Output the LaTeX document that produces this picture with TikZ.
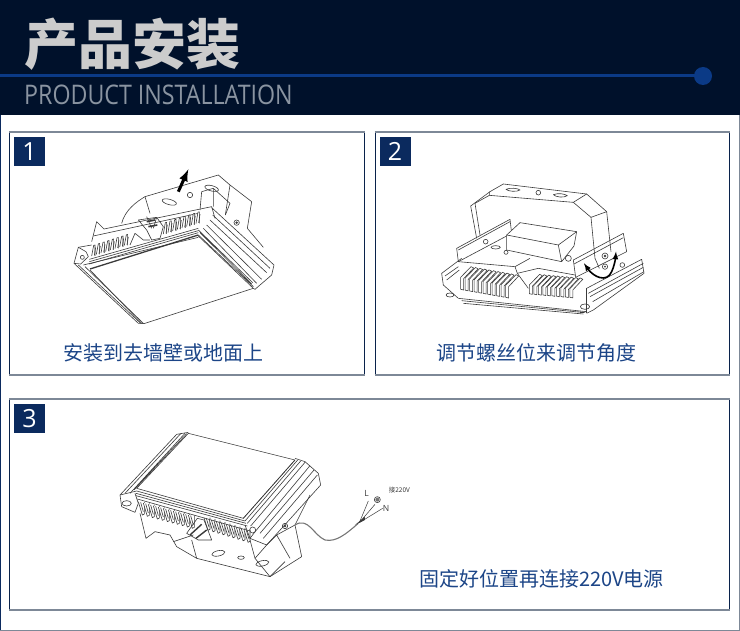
\documentclass[tikz,border=0pt]{standalone}
\usepackage{fontspec}
\usepackage{tikz}
\usetikzlibrary{arrows, calc}
\newfontfamily\cjk{Noto Sans CJK SC}
\newfontfamily\cjkbold{Noto Sans CJK SC Black}
\setsansfont{Open Sans}
\definecolor{headbg}{HTML}{00112B}
\definecolor{headline}{HTML}{0B3A86}
\definecolor{numbox}{HTML}{0B2A5E}
\definecolor{capblue}{HTML}{1C4587}
\definecolor{edgegray}{HTML}{7D8897}
\definecolor{inkgray}{HTML}{3A3A3A}

\begin{document}
\begin{tikzpicture}[x=1pt,y=-1pt,
	            >=latex,
	            every node/.style={inner sep=0pt},
	            numlabel/.style={
	                fill=numbox,
	                text=white,
	                minimum width=31pt,
	                minimum height=29pt,
	                font=\sffamily\fontsize{25}{25}\selectfont
	            },
	            caption/.style={
	                text=capblue,
	                font=\cjk\fontsize{20}{20}\selectfont
	            },
	            topbot/.style={edgegray, line width=1.3pt},
	            sides/.style={numbox!80!black, line width=1pt},
	            ink/.style={inkgray, line width=.6pt, line join=round},
	            fin/.style={ink, fill=white},
	            bigarrow/.style={black, line width=3pt, ->}
	            ]
	        \useasboundingbox (0,0) rectangle (740,631);

	        % header
	        \fill[headbg] (0,0) rectangle (740,115);
	        \draw[headline, line width=3pt] (0,76) -- (703,76);
	        \fill[headline] (703,76) circle (9);
	        \node[anchor=west, text=black!20, font=\cjkbold\fontsize{54}{54}\selectfont] (title) at (24,44) {产品安装};
	        \node[anchor=west, text=edgegray!90!white, xscale=.86, transform shape, font=\sffamily\fontsize{27}{27}\selectfont] (subtitle) at (24,95) {PRODUCT INSTALLATION};

	        % page edges
	        \draw[numbox, line width=1pt] (.5,115) -- (.5,631);
	        \draw[edgegray, line width=1pt] (0,630.5) -- (740,630.5) (739.5,115) -- (739.5,631);

	        % panels
	        \draw[sides] (9.5,132) -- (9.5,375) (364.5,132) -- (364.5,375);
	        \draw[sides] (375,132) -- (375,375) (729,132) -- (729,375);
	        \draw[sides] (9.5,399) -- (9.5,610) (729,399) -- (729,610);
	        \draw[topbot] (9,132) -- (365,132) (9,375) -- (365,375);
	        \draw[topbot] (374.5,132) -- (729.5,132) (374.5,375) -- (729.5,375);
	        \draw[topbot] (9,399) -- (729.5,399) (9,610) -- (729.5,610);

	        \node[numlabel] (n1) at (29.5,151.5) {1};
	        \node[numlabel] (n2) at (395,151.5) {2};
	        \node[numlabel] (n3) at (29.5,418.5) {3};

	        \node[caption] (c1) at (163.5,353) {安装到去墙壁或地面上};
	        \node[caption] (c2) at (536.5,353) {调节螺丝位来调节角度};
	        \node[caption] (c3) at (541.5,578.5) {固定好位置再连接220V电源};

	        % lamp, panel 1
	        \begin{scope}[shift={(50,160)},scale=1/3]
	            \draw[ink] (215,190) .. controls (225,150) and (260,125) .. (285,110) -- (505,45) -- (540,75) -- (605,125) -- (592,205) -- (640,262);
	            \draw[ink] (285,110) -- (300,160);
	            \draw[ink] (540,75) -- (526,165);
	            \draw[ink, rotate around={-15:(358,126)}] (358,126) ellipse (22 and 8);
	            \draw[ink] (420,105) circle (8);
	            \draw[ink, rotate around={-15:(485,85)}] (485,85) ellipse (21 and 8);
	            \draw[ink] (560,188) circle (8);
	            \fill[inkgray] (560,188) circle (4);
	            % near plates
	            \draw[ink] (125,245) -- (140,185) -- (162,207) -- (485,140) -- (495,175);
	            \draw[ink] (130,228) -- (445,160);
	            \draw[ink] (455,95) -- (490,85) -- (540,130) -- (526,165);
	            \draw[ink] (455,95) -- (450,150) (490,85) -- (490,140);
	            % end of the profile
	            \draw[ink] (72,310) -- (85,262) -- (125,255);
	            \draw[ink] (72,310) -- (92,312) -- (115,290) -- (108,275) -- (85,262);
	            \draw[ink] (97,292) circle (6);
	            % fins
	            \foreach \i in {0,...,7}{
	                \draw[fin] ($(125,288)+(\i*14,-\i*4.5)$) -- ++(6,-32) -- ++(4,-1) -- ++(0,33);
	                \draw[ink] ($(133,286)+(\i*14,-\i*4.5)$) -- ++(4,-24);
	            }
	            \foreach \i in {0,...,7}{
	                \draw[fin] ($(340,222)+(\i*14,-\i*4.5)$) -- ++(6,-34) -- ++(4,-1) -- ++(0,35);
	                \draw[ink] ($(348,220)+(\i*14,-\i*4.5)$) -- ++(4,-26);
	            }
	            \draw[ink] (240,255) -- (255,220) -- (280,240) -- (300,240);
	            \draw[ink] (265,180) -- (320,172) -- (340,200) -- (330,235) -- (305,240) -- (290,210) -- cycle;
	            \draw[inkgray, line width=1.6pt] (290,185) -- (315,180) (295,200) -- (322,195);
	            \draw[ink] (290,170) -- (305,205) (320,172) -- (310,205);
	            % front rail
	            \draw[ink] (118,298) -- (445,205) (118,305) -- (445,212);
	            \draw[ink] (118,312) -- (445,218);
	            \draw[inkgray, line width=1.3pt] (120,327) -- (445,225);
	            \draw[ink] (100,315) -- (445,232);
	            % lens
	            \draw[ink] (120,330) -- (275,490) -- (285,490) -- (610,385);
	            \draw[ink] (445,228) -- (610,385);
	            % left rail
	            \draw[ink] (72,310) -- (265,490) -- (285,490);
	            \draw[ink] (85,315) -- (272,490);
	            \draw[ink] (105,320) -- (280,490);
	            % right rail
	            \draw[ink] (485,143) -- (672,315) -- (665,345) -- (615,388) -- (610,385);
	            \draw[ink] (445,210) -- (608,368) (450,218) -- (605,372) (445,225) -- (610,380);
	            \draw[ink] (460,205) -- (620,370) (470,195) -- (635,358);
	            \draw[ink] (480,180) -- (650,338) (488,165) -- (660,325);
	            \draw[bigarrow] (385,95) -- (415,28);
	        \end{scope}

	        % lamp, panel 2
	        \begin{scope}[shift={(430,170)},scale=1/3]
	            % right plate
	            \draw[ink] (430,270) -- (580,190) -- (590,245) -- (437,322) -- (430,270);
	            \draw[ink] (580,203) -- (432,282);
	            \draw[ink] (577,285) circle (7);
	            % handle
	            \draw[ink] (140,205) -- (122,108) -- (180,65) -- (220,42) -- (470,72) -- (530,125) -- (543,245);
	            \draw[ink] (150,195) -- (135,100) -- (178,76) -- (430,97) -- (483,142) -- (495,265) -- (508,295);
	            \draw[ink] (178,65) -- (178,76) (470,72) -- (430,97) (530,125) -- (483,142);
	            \draw[ink] (228,58) .. controls (240,52) and (265,55) .. (270,60) .. controls (262,66) and (235,65) .. (228,58) -- cycle;
	            \draw[ink] (370,74) .. controls (385,68) and (405,72) .. (412,77) .. controls (402,84) and (378,82) .. (370,74) -- cycle;
	            \draw[ink] (325,68) circle (7);
	            % plate with the screw
	            \draw[ink] (80,235) -- (240,148) -- (245,190) -- (85,275) -- cycle;
	            \draw[ink] (85,240) -- (240,155);
	            \draw[ink] (167,215) circle (7);
	            \draw[ink] (197,232) ellipse (14 and 5);
	            % box
	            \draw[ink, fill=white] (230,195) -- (270,158) -- (440,185) -- (432,228) -- (395,275) -- (230,240) -- cycle;
	            \draw[ink] (230,195) -- (385,225) -- (395,275) (385,225) -- (440,185);
	            \draw[ink] (415,265) circle (9) (228,247) circle (6);
	            % base plate
	            \draw[ink] (85,275) -- (255,290) -- (300,265) (255,290) -- (262,310) -- (295,355);
	            \draw[ink] (262,310) -- (325,295) -- (435,315);
	            % fins
	            \foreach \i in {10,9,...,0}{
	                \draw[fin] ($(92,322)+(\i*13.5,\i*2.4)$) -- ++(0,36) -- ++(9,2) -- ++(0,-34) -- ++(30,-32) -- ++(-8,-4) -- cycle;
	            }
	            \foreach \i in {9,8,...,0}{
	                \draw[fin] ($(298,345)+(\i*13.5,\i*1.2)$) -- ++(0,26) -- ++(9,2) -- ++(0,-24) -- ++(30,-32) -- ++(-8,-4) -- cycle;
	            }
	            % left end
	            \draw[ink] (40,345) -- (35,310) -- (95,265);
	            \draw[ink] (45,318) -- (85,290) (50,330) -- (88,300);
	            \draw[ink] (40,345) -- (85,385);
	            \draw[ink] (60,375) ellipse (12 and 6);
	            % front rail
	            \draw[ink] (85,385) -- (470,425) (95,392) -- (465,428) -- (450,428);
	            \draw[ink] (100,400) -- (460,432);
	            % right rail
	            \draw[ink] (470,355) -- (635,268) -- (642,310) -- (490,420) -- (470,430);
	            \draw[ink] (475,370) -- (640,280) (480,380) -- (640,292) (488,395) -- (642,305);
	            \draw[ink] (470,355) -- (470,430);
	            \draw[ink] (465,410) ellipse (14 and 8);
	            % screws, arrow
	            \draw[ink] (525,258) circle (9) (525,290) circle (8);
	            \fill[inkgray] (525,258) circle (4) (525,290) circle (3);
	            \draw[black, line width=1.6pt, <->] (462,280) .. controls (490,320) and (530,340) .. (545,305) .. controls (552,290) and (556,270) .. (558,245);
	        \end{scope}

	        % lamp, panel 3
	        \begin{scope}[shift={(110,425)},scale=1/3]
	            % bracket
	            \draw[ink] (90,265) -- (108,340) -- (135,320) -- (180,330);
	            \draw[ink] (180,330) -- (200,365) -- (260,400) -- (480,455) -- (525,410);
	            \draw[ink] (190,350) -- (250,330) (260,400) -- (245,345);
	            \draw[ink] (420,345) -- (435,400) -- (480,455) -- (575,395) -- (555,300) -- (600,210);
	            \draw[ink] (470,360) -- (500,330) -- (540,400) (500,330) -- (555,300);
	            \draw[ink] (435,400) -- (470,360);
	            \draw[ink, rotate around={12:(325,385)}] (325,385) ellipse (20 and 8);
	            \draw[ink] (393,398) ellipse (10 and 5);
	            \draw[ink, rotate around={12:(457,415)}] (457,415) ellipse (20 and 8);
	            \draw[ink] (525,303) circle (8);
	            \fill[inkgray] (525,303) circle (4);
	            % lens
	            \draw[ink] (80,190) -- (235,25) -- (555,105) -- (400,280) -- cycle;
	            % left rail
	            \draw[ink] (30,210) -- (200,28) -- (235,22);
	            \draw[ink] (45,205) -- (212,26) (60,205) -- (225,25) (72,195) -- (230,26);
	            % left end
	            \draw[ink] (30,210) -- (35,245) -- (75,262) -- (85,235) -- (75,205);
	            \draw[ink] (50,235) ellipse (14 and 8);
	            % fins
	            \foreach \i in {0,...,10}{
	                \draw[fin] ($(85,230)+(\i*15,\i*4)$) -- ++(12,40) -- ++(6,-3) -- ++(0,-36);
	                \draw[ink] ($(92,232)+(\i*15,\i*4)$) -- ++(8,28);
	            }
	            \foreach \i in {0,...,8}{
	                \draw[fin] ($(282,278)+(\i*15,\i*4.5)$) -- ++(12,38) -- ++(6,-3) -- ++(0,-35);
	                \draw[ink] ($(289,280)+(\i*15,\i*4.5)$) -- ++(8,26);
	            }
	            % center block
	            \draw[ink] (230,325) -- (262,280) -- (282,285) -- (305,345) -- (265,345) -- cycle;
	            \draw[inkgray, line width=1.4pt] (240,330) -- (275,298) (258,340) -- (290,315);
	            % front rail
	            \draw[ink] (30,210) -- (80,198);
	            \draw[ink] (80,198) -- (405,288) (78,205) -- (408,295) (78,212) -- (412,303) (82,222) -- (420,318);
	            % right rail
	            \draw[ink] (555,100) -- (585,110) -- (625,145) -- (632,180) -- (470,360) -- (450,352) -- (420,340) -- (405,300);
	            \draw[ink] (555,105) -- (400,280) (563,105) -- (405,288) (572,108) -- (412,295);
	            \draw[ink] (585,112) -- (422,303) (600,122) -- (437,318);
	            \draw[ink] (612,135) -- (450,325) (622,150) -- (460,340);
	            \draw[ink] (420,340) -- (437,318);
	            \draw[ink] (428,315) circle (9);
	            % cable
	            \draw[inkgray!70, line width=1.1pt] (555,300) .. controls (595,275) and (610,330) .. (645,345) .. controls (680,352) and (710,325) .. (745,295);
	            \coordinate (plug) at (748,293);
	            \coordinate (tipL) at (775,228);
	            \coordinate (tipG) at (795,238);
	            \coordinate (tipN) at (818,250);
	            \draw[inkgray, line width=.5pt] (plug) -- (tipL) (plug) -- (tipG) (plug) -- (tipN);
	            \fill[inkgray] (735,300) -- (765,275) -- (765,285) -- cycle;
	            \draw[ink] (802,224) circle (9);
	            \fill[inkgray!70] (802,224) circle (6);
	            \node[text=inkgray, font=\sffamily\fontsize{8.5}{8.5}\selectfont] (lblL) at (770,205) {L};
	            \node[text=inkgray, font=\sffamily\fontsize{8.5}{8.5}\selectfont] (lblN) at (828,250) {N};
	            \node[text=inkgray, font=\cjk\fontsize{6.5}{7}\selectfont] (lblV) at (868,194) {接220V};
	        \end{scope}

	    \end{tikzpicture}
\end{document}
